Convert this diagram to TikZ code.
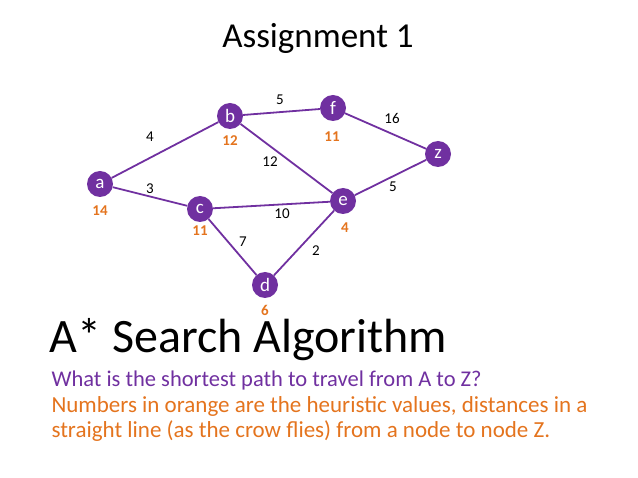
\documentclass[tikz,border=0pt]{standalone}
\usepackage{fontspec}
\setmainfont{Carlito}
\definecolor{pur}{RGB}{112,48,160}
\definecolor{org}{RGB}{228,116,30}
\begin{document}
\begin{tikzpicture}[x=1pt,y=-1pt,
  vtx/.style={circle,fill=pur,text=white,minimum size=26pt,inner sep=0pt,font=\fontsize{19}{19}\selectfont},
  edge/.style={draw=pur,line width=1.8pt},
  wt/.style={font=\fontsize{15}{15}\selectfont},
  heur/.style={text=org,font=\bfseries\fontsize{15}{15}\selectfont}]
\useasboundingbox (0,0) rectangle (638,478);
\node[font=\fontsize{35}{35}\selectfont] (title) at (318,38) {Assignment 1};
\node[vtx] (a) at (100,184) {a};
\node[vtx] (b) at (230,116) {b};
\node[vtx] (f) at (333,108) {f};
\node[vtx] (z) at (438,154) {z};
\node[vtx] (c) at (200,209) {c};
\node[vtx] (e) at (343,201) {e};
\node[vtx] (d) at (265,285) {d};
\draw[edge] (a)--(b); \draw[edge] (b)--(f); \draw[edge] (f)--(z);
\draw[edge] (b)--(e); \draw[edge] (a)--(c); \draw[edge] (c)--(e);
\draw[edge] (z)--(e); \draw[edge] (c)--(d); \draw[edge] (d)--(e);
\node[wt] (w1) at (150,137) {4};
\node[wt] (w2) at (280,100) {5};
\node[wt] (w3) at (392,118) {16};
\node[wt] (w4) at (270,162) {12};
\node[wt] (w5) at (150,189) {3};
\node[wt] (w6) at (282,214) {10};
\node[wt] (w7) at (393,187) {5};
\node[wt] (w8) at (243,242) {7};
\node[wt] (w9) at (316,251) {2};
\node[heur] (h1) at (100,211) {14};
\node[heur] (h2) at (230,141) {12};
\node[heur] (h3) at (332,137) {11};
\node[heur] (h4) at (200,231) {11};
\node[heur] (h5) at (345,228) {4};
\node[heur] (h6) at (265,310) {6};
\node[anchor=west,font=\fontsize{48}{48}\selectfont] (t2) at (46,340) {A* Search Algorithm};
\node[anchor=west,text=pur,font=\fontsize{22.5}{22.5}\selectfont] (l1) at (48,381) {What is the shortest path to travel from A to Z?};
\node[anchor=west,text=org,font=\fontsize{23}{23}\selectfont] (l2) at (48,406) {Numbers in orange are the heuristic values, distances in a};
\node[anchor=west,text=org,font=\fontsize{23}{23}\selectfont] (l3) at (48,431) {straight line (as the crow flies) from a node to node Z.};
\end{tikzpicture}
\end{document}
